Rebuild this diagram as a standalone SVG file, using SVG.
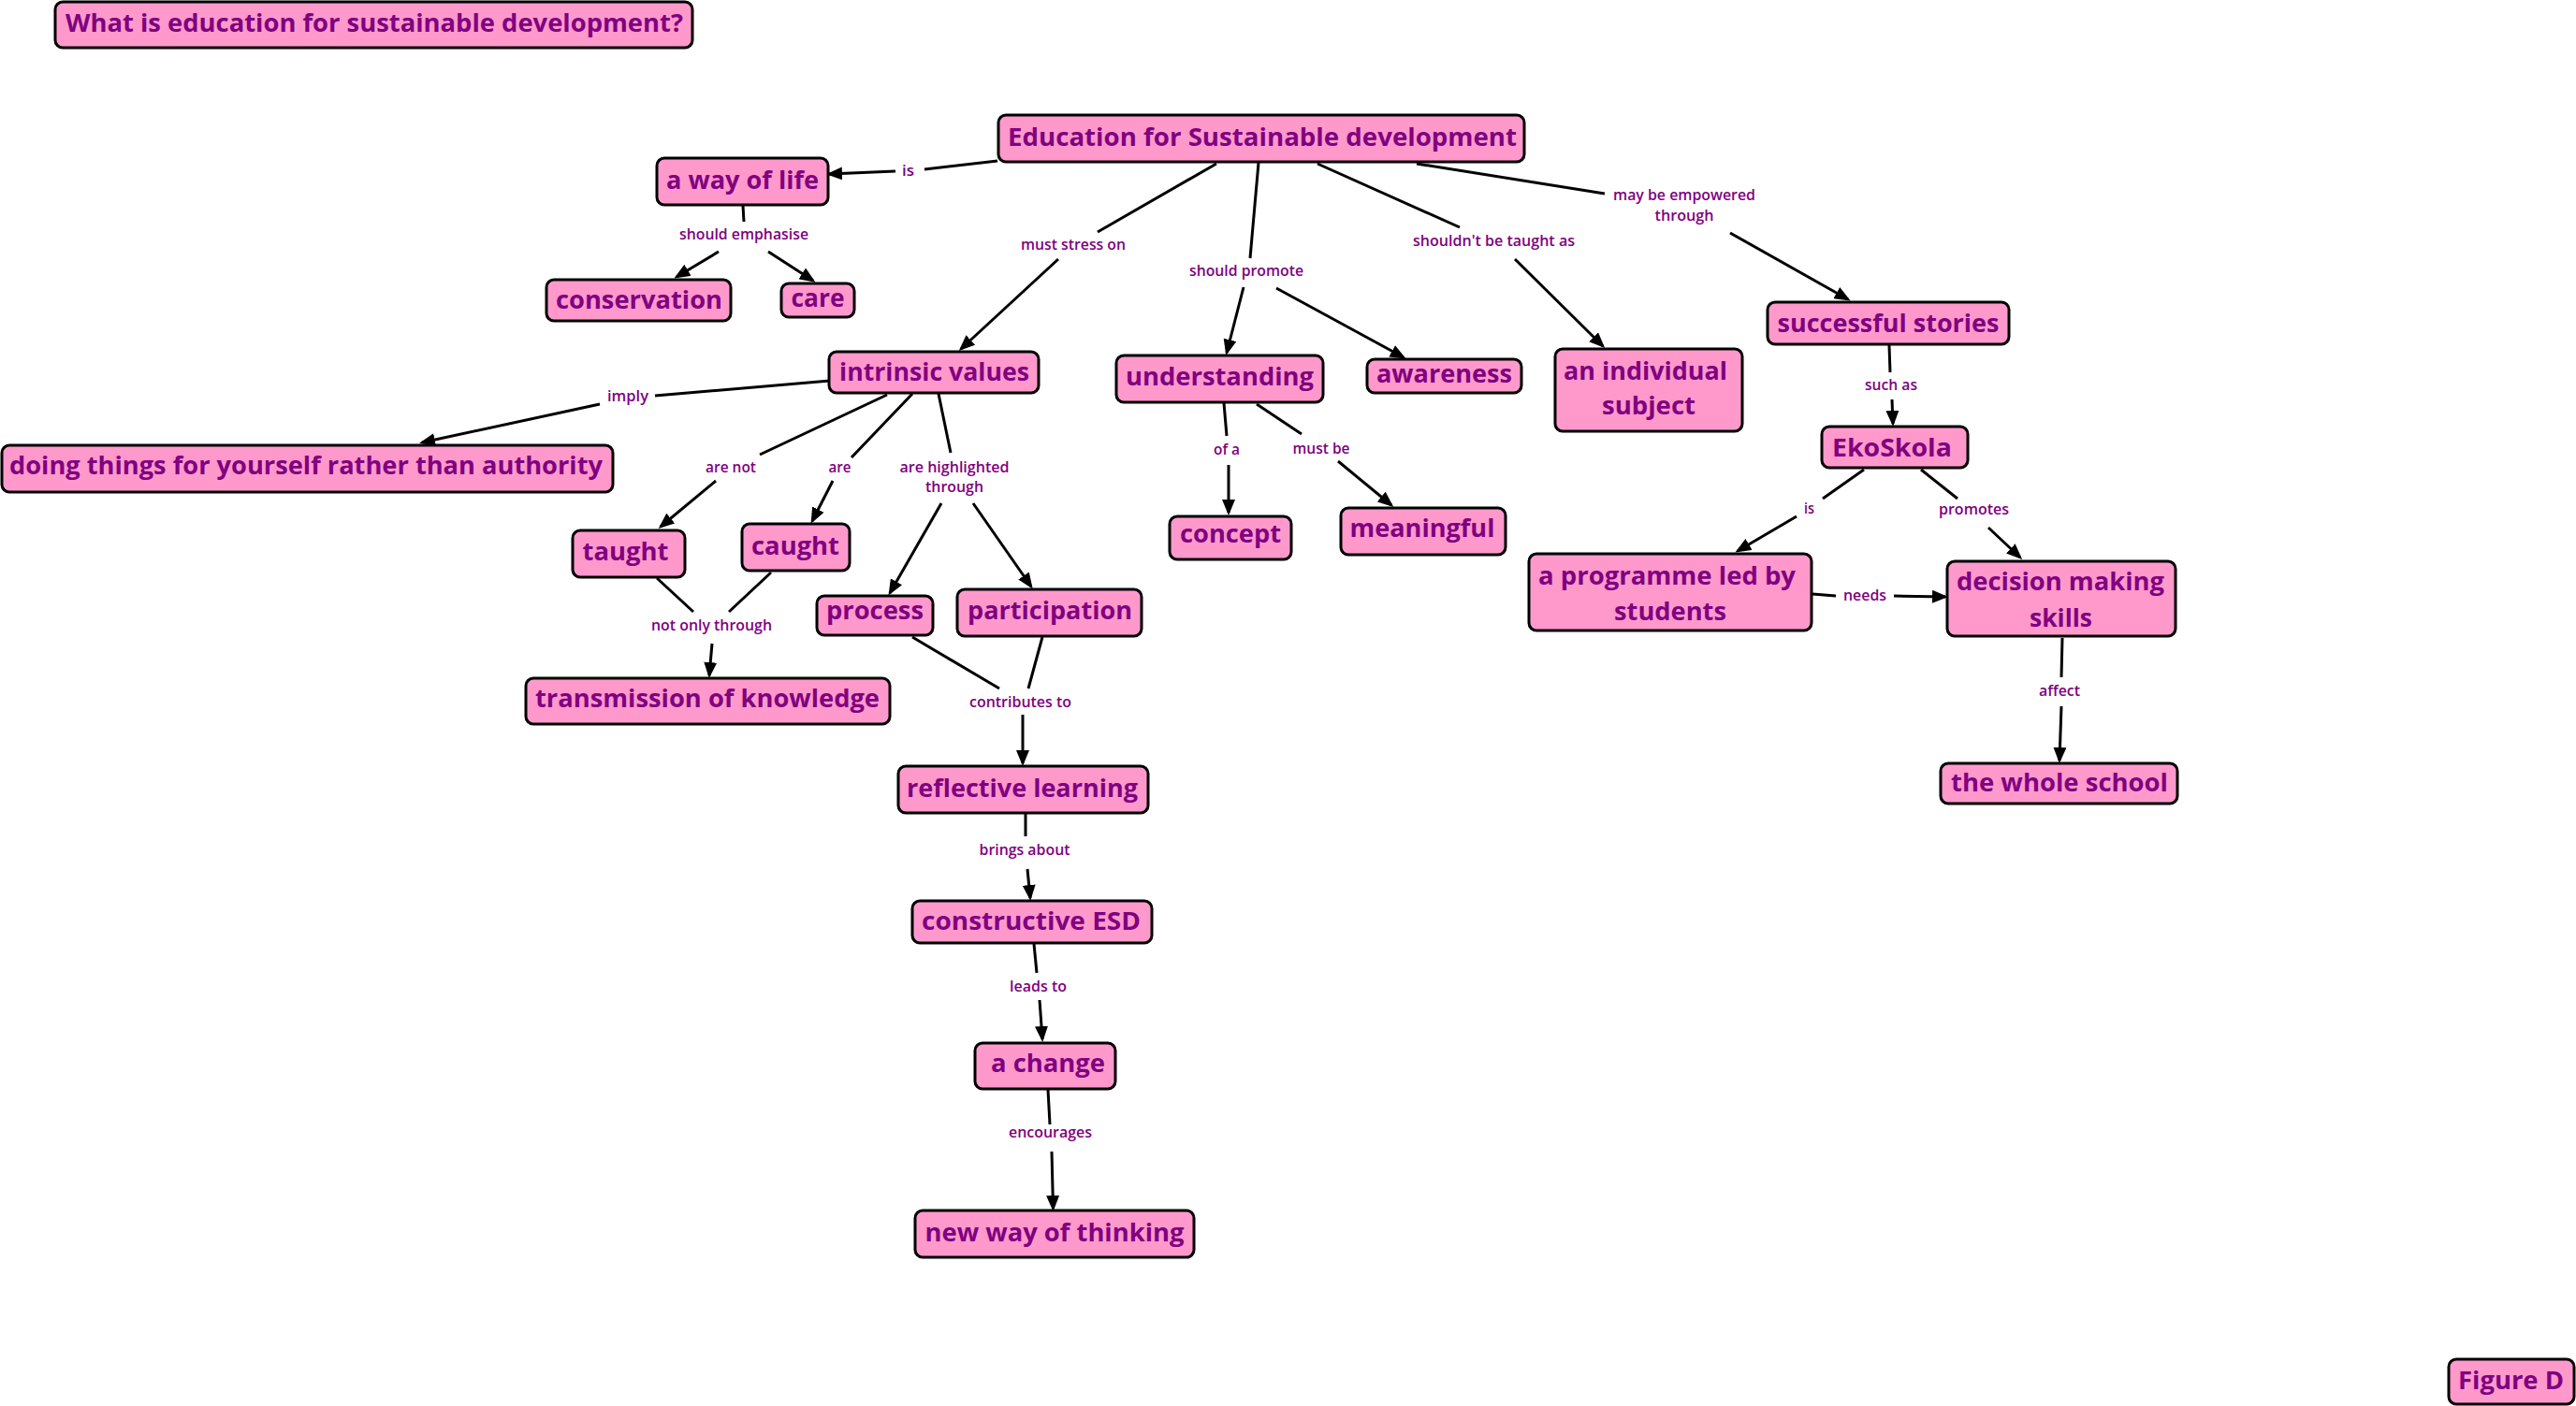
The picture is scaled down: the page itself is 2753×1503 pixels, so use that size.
<svg xmlns="http://www.w3.org/2000/svg" width="2753" height="1503" viewBox="0 0 2753 1503">
<style>
.bx{fill:#FF99CC;stroke:#000;stroke-width:3}
.t{font-family:"Open Sans","Liberation Sans",sans-serif;font-weight:700;font-size:27px;fill:#800080;text-anchor:middle}
.l{font-family:"Open Sans","Liberation Sans",sans-serif;font-weight:600;font-size:16px;fill:#800080;text-anchor:middle}
.c path{fill:none;stroke:#000;stroke-width:3}
.c path.a{marker-end:url(#ah)}
</style>
<defs>
<marker id="ah" markerUnits="userSpaceOnUse" markerWidth="17" markerHeight="14" refX="14" refY="7" orient="auto"><path d="M0,0 L17,7 L0,14 Z" fill="#000"/></marker>
</defs>
<rect width="2753" height="1503" fill="#fff"/>
<g id="connectors" class="c">
<path d="M1066,172 L988,181"/><path class="a" d="M957,183 L886,186"/>
<path d="M1300,175 L1173,248"/><path class="a" d="M1131,277 L1027,373"/>
<path d="M1345,174 L1336,276"/><path class="a" d="M1329,307 L1311,377"/><path class="a" d="M1364,308 L1500,382"/>
<path d="M1408,175 L1560,243"/><path class="a" d="M1619,277 L1713,370"/>
<path d="M1514,175 L1715,207"/><path class="a" d="M1849,249 L1975,320"/>
<path d="M794,220 L795,237"/><path class="a" d="M768,269 L723,296"/><path class="a" d="M821,269 L869,300"/>
<path d="M887,407 L700,423"/><path class="a" d="M641,432 L451,473"/>
<path d="M948,422 L812,486"/><path class="a" d="M765,514 L706,563"/>
<path d="M975,421 L910,489"/><path class="a" d="M890,514 L868,557"/>
<path d="M1003,421 L1016,484"/><path class="a" d="M1006,538 L951,634"/><path class="a" d="M1040,538 L1102,627"/>
<path d="M702,618 L741,654"/><path d="M824,612 L779,654"/><path class="a" d="M761,688 L758,722"/>
<path d="M975,681 L1068,736"/><path d="M1114,681 L1099,736"/><path class="a" d="M1093,764 L1093,816"/>
<path d="M1308,431 L1311,466"/><path class="a" d="M1313,497 L1313,548"/>
<path d="M1343,432 L1391,464"/><path class="a" d="M1430,493 L1487,540"/>
<path d="M2019,369 L2020,398"/><path class="a" d="M2022,427 L2023,453"/>
<path d="M1992,502 L1948,533"/><path class="a" d="M1920,552 L1857,589"/>
<path d="M2053,502 L2092,533"/><path class="a" d="M2125,564 L2159,596"/>
<path d="M1937,635 L1962,637"/><path class="a" d="M2024,637 L2079,638"/>
<path d="M2204,682 L2203,724"/><path class="a" d="M2203,755 L2201,813"/>
<path d="M1096,870 L1096,894"/><path class="a" d="M1098,929 L1101,960"/>
<path d="M1105,1009 L1108,1040"/><path class="a" d="M1111,1069 L1114,1111"/>
<path d="M1120,1165 L1122,1202"/><path class="a" d="M1124,1231 L1125.5,1292"/>
</g>
<g id="labels">
<text class="l" x="970.5" y="188" textLength="13" lengthAdjust="spacingAndGlyphs">is</text>
<text class="l" x="1147" y="267" textLength="112" lengthAdjust="spacingAndGlyphs">must stress on</text>
<text class="l" x="1332" y="295" textLength="122" lengthAdjust="spacingAndGlyphs">should promote</text>
<text class="l" x="1596.5" y="263" textLength="173" lengthAdjust="spacingAndGlyphs">shouldn't be taught as</text>
<text class="l" x="1800" y="214" textLength="152" lengthAdjust="spacingAndGlyphs">may be empowered</text>
<text class="l" x="1800" y="236" textLength="63" lengthAdjust="spacingAndGlyphs">through</text>
<text class="l" x="795" y="256" textLength="138" lengthAdjust="spacingAndGlyphs">should emphasise</text>
<text class="l" x="671" y="429" textLength="44" lengthAdjust="spacingAndGlyphs">imply</text>
<text class="l" x="781" y="505" textLength="54" lengthAdjust="spacingAndGlyphs">are not</text>
<text class="l" x="897.5" y="505" textLength="24" lengthAdjust="spacingAndGlyphs">are</text>
<text class="l" x="1020" y="505" textLength="117" lengthAdjust="spacingAndGlyphs">are highlighted</text>
<text class="l" x="1020" y="526" textLength="62" lengthAdjust="spacingAndGlyphs">through</text>
<text class="l" x="760.5" y="674" textLength="129" lengthAdjust="spacingAndGlyphs">not only through</text>
<text class="l" x="1090.5" y="756" textLength="109" lengthAdjust="spacingAndGlyphs">contributes to</text>
<text class="l" x="1311" y="486" textLength="28" lengthAdjust="spacingAndGlyphs">of a</text>
<text class="l" x="1412" y="485" textLength="61" lengthAdjust="spacingAndGlyphs">must be</text>
<text class="l" x="2021" y="417" textLength="56" lengthAdjust="spacingAndGlyphs">such as</text>
<text class="l" x="1933.5" y="549" textLength="11" lengthAdjust="spacingAndGlyphs">is</text>
<text class="l" x="2109.5" y="550" textLength="75" lengthAdjust="spacingAndGlyphs">promotes</text>
<text class="l" x="1993" y="642" textLength="46" lengthAdjust="spacingAndGlyphs">needs</text>
<text class="l" x="2201" y="744" textLength="44" lengthAdjust="spacingAndGlyphs">affect</text>
<text class="l" x="1095" y="914" textLength="97" lengthAdjust="spacingAndGlyphs">brings about</text>
<text class="l" x="1109.5" y="1060" textLength="61" lengthAdjust="spacingAndGlyphs">leads to</text>
<text class="l" x="1122.5" y="1216" textLength="89" lengthAdjust="spacingAndGlyphs">encourages</text>
</g>
<g id="n-title"><rect class="bx" x="59" y="2" width="681" height="49" rx="8"/><text class="t" x="400" y="34" textLength="660" lengthAdjust="spacingAndGlyphs">What is education for sustainable development?</text></g>
<g id="n-esd"><rect class="bx" x="1067" y="123" width="562" height="50" rx="8"/><text class="t" x="1349" y="156" textLength="544" lengthAdjust="spacingAndGlyphs">Education for Sustainable development</text></g>
<g id="n-wayoflife"><rect class="bx" x="702" y="169" width="183" height="50" rx="8"/><text class="t" x="793.5" y="202" textLength="163" lengthAdjust="spacingAndGlyphs">a way of life</text></g>
<g id="n-conservation"><rect class="bx" x="584" y="299" width="197" height="44" rx="8"/><text class="t" x="683" y="330" textLength="178" lengthAdjust="spacingAndGlyphs">conservation</text></g>
<g id="n-care"><rect class="bx" x="835" y="303" width="78" height="36" rx="8"/><text class="t" x="874" y="328" textLength="57" lengthAdjust="spacingAndGlyphs">care</text></g>
<g id="n-intrinsic"><rect class="bx" x="886" y="376" width="224" height="44" rx="8"/><text class="t" x="998.5" y="407" textLength="203" lengthAdjust="spacingAndGlyphs">intrinsic values</text></g>
<g id="n-understanding"><rect class="bx" x="1193" y="380" width="221" height="50" rx="8"/><text class="t" x="1303.5" y="412" textLength="201" lengthAdjust="spacingAndGlyphs">understanding</text></g>
<g id="n-awareness"><rect class="bx" x="1461" y="384" width="165" height="36" rx="8"/><text class="t" x="1543.5" y="409" textLength="145" lengthAdjust="spacingAndGlyphs">awareness</text></g>
<g id="n-individual"><rect class="bx" x="1662" y="373" width="200" height="88" rx="8"/><text class="t" x="1758.5" y="406" textLength="175" lengthAdjust="spacingAndGlyphs">an individual</text><text class="t" x="1762" y="443" textLength="100" lengthAdjust="spacingAndGlyphs">subject</text></g>
<g id="n-successful"><rect class="bx" x="1889" y="323" width="258" height="45" rx="8"/><text class="t" x="2018" y="355" textLength="237" lengthAdjust="spacingAndGlyphs">successful stories</text></g>
<g id="n-ekoskola"><rect class="bx" x="1947" y="456" width="156" height="44" rx="8"/><text class="t" x="2022" y="488" textLength="128" lengthAdjust="spacingAndGlyphs">EkoSkola</text></g>
<g id="n-programme"><rect class="bx" x="1634" y="592" width="302" height="82" rx="8"/><text class="t" x="1781.5" y="625" textLength="275" lengthAdjust="spacingAndGlyphs">a programme led by</text><text class="t" x="1785" y="663" textLength="120" lengthAdjust="spacingAndGlyphs">students</text></g>
<g id="n-decision"><rect class="bx" x="2081" y="600" width="244" height="80" rx="8"/><text class="t" x="2202" y="631" textLength="222" lengthAdjust="spacingAndGlyphs">decision making</text><text class="t" x="2202.5" y="670" textLength="67" lengthAdjust="spacingAndGlyphs">skills</text></g>
<g id="n-wholeschool"><rect class="bx" x="2074" y="816" width="253" height="43" rx="8"/><text class="t" x="2201" y="846" textLength="232" lengthAdjust="spacingAndGlyphs">the whole school</text></g>
<g id="n-doing"><rect class="bx" x="2" y="476" width="653" height="50" rx="8"/><text class="t" x="327" y="507" textLength="634" lengthAdjust="spacingAndGlyphs">doing things for yourself rather than authority</text></g>
<g id="n-taught"><rect class="bx" x="612" y="567" width="120" height="50" rx="8"/><text class="t" x="668.5" y="599" textLength="92" lengthAdjust="spacingAndGlyphs">taught</text></g>
<g id="n-caught"><rect class="bx" x="793" y="560" width="115" height="50" rx="8"/><text class="t" x="850" y="593" textLength="94" lengthAdjust="spacingAndGlyphs">caught</text></g>
<g id="n-process"><rect class="bx" x="873" y="637" width="124" height="42" rx="8"/><text class="t" x="935" y="662" textLength="104" lengthAdjust="spacingAndGlyphs">process</text></g>
<g id="n-participation"><rect class="bx" x="1023" y="630" width="197" height="50" rx="8"/><text class="t" x="1122" y="662" textLength="176" lengthAdjust="spacingAndGlyphs">participation</text></g>
<g id="n-transmission"><rect class="bx" x="562" y="725" width="389" height="49" rx="8"/><text class="t" x="756" y="756" textLength="368" lengthAdjust="spacingAndGlyphs">transmission of knowledge</text></g>
<g id="n-concept"><rect class="bx" x="1250" y="552" width="130" height="46" rx="8"/><text class="t" x="1315" y="580" textLength="108" lengthAdjust="spacingAndGlyphs">concept</text></g>
<g id="n-meaningful"><rect class="bx" x="1433" y="543" width="176" height="50" rx="8"/><text class="t" x="1520" y="574" textLength="155" lengthAdjust="spacingAndGlyphs">meaningful</text></g>
<g id="n-reflective"><rect class="bx" x="960" y="819" width="267" height="50" rx="8"/><text class="t" x="1092.5" y="852" textLength="247" lengthAdjust="spacingAndGlyphs">reflective learning</text></g>
<g id="n-constructive"><rect class="bx" x="975" y="963" width="256" height="45" rx="8"/><text class="t" x="1102" y="994" textLength="234" lengthAdjust="spacingAndGlyphs">constructive ESD</text></g>
<g id="n-achange"><rect class="bx" x="1042" y="1115" width="150" height="49" rx="8"/><text class="t" x="1120" y="1146" textLength="122" lengthAdjust="spacingAndGlyphs">a change</text></g>
<g id="n-newway"><rect class="bx" x="978" y="1294" width="298" height="50" rx="8"/><text class="t" x="1127" y="1327" textLength="277" lengthAdjust="spacingAndGlyphs">new way of thinking</text></g>
<g id="n-figure"><rect class="bx" x="2617" y="1453" width="134" height="48" rx="8"/><text class="t" x="2683.5" y="1485" textLength="113" lengthAdjust="spacingAndGlyphs">Figure D</text></g>
</svg>
